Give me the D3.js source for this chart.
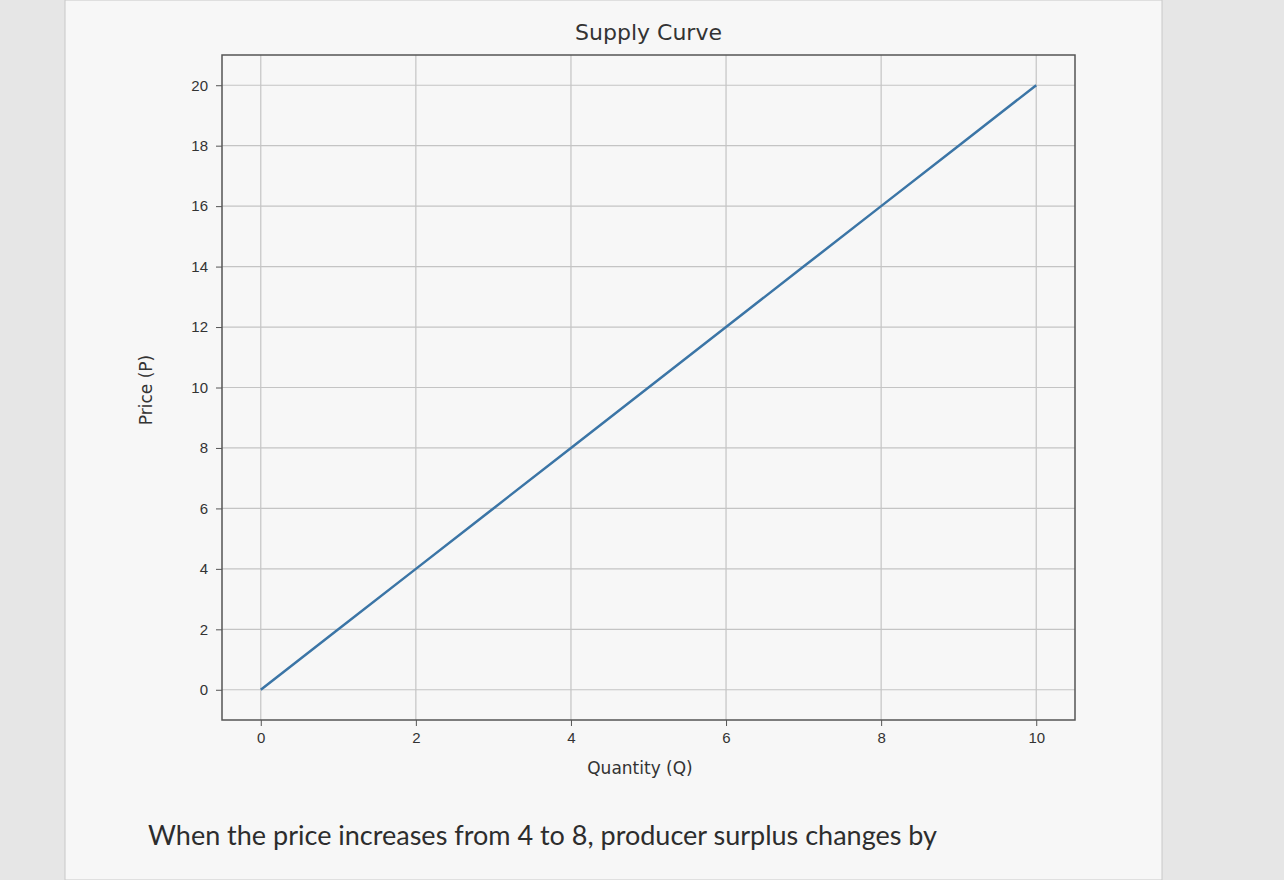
<!DOCTYPE html>
<html><head><meta charset="utf-8">
<script src="https://cdn.jsdelivr.net/npm/d3@7"></script>
<style>body{margin:0;background:#e6e6e6;font-family:"DejaVu Sans",sans-serif}</style>
</head><body>
<svg id="c" width="1284" height="880"></svg>
<script>
const quantity = [0, 1, 2, 3, 4, 5, 6, 7, 8, 9, 10];
const price = [0, 2, 4, 6, 8, 10, 12, 14, 16, 18, 20];
const xTicks = [0, 2, 4, 6, 8, 10];
const yTicks = [0, 2, 4, 6, 8, 10, 12, 14, 16, 18, 20];

const svg = d3.select("#c");
// page card
svg.append("rect").attr("x", 65).attr("y", 0).attr("width", 1097).attr("height", 880).attr("fill", "#f7f7f7").attr("stroke", "#c8c8c8");

const pLeft = 222, pRight = 1075, pTop = 55, pBottom = 720;
const x = d3.scaleLinear().domain([-0.5, 10.5]).range([pLeft, pRight]);
const y = d3.scaleLinear().domain([-1, 21]).range([pBottom, pTop]);

// grid
svg.append("g").selectAll("line").data(xTicks).enter().append("line")
  .attr("x1", d => x(d)).attr("x2", d => x(d)).attr("y1", pTop).attr("y2", pBottom)
  .attr("stroke", "#c4c4c4").attr("stroke-width", 1.2);
svg.append("g").selectAll("line").data(yTicks).enter().append("line")
  .attr("y1", d => y(d)).attr("y2", d => y(d)).attr("x1", pLeft).attr("x2", pRight)
  .attr("stroke", "#c4c4c4").attr("stroke-width", 1.2);

// axes
svg.append("g").attr("transform", "translate(0," + pBottom + ")")
  .call(d3.axisBottom(x).tickValues(xTicks).tickSize(6).tickPadding(6))
  .call(g => g.select(".domain").remove())
  .selectAll("text").style("font-size", "15px").attr("fill", "#333");
svg.append("g").attr("transform", "translate(" + pLeft + ",0)")
  .call(d3.axisLeft(y).tickValues(yTicks).tickSize(6).tickPadding(8))
  .call(g => g.select(".domain").remove())
  .selectAll("text").style("font-size", "15px").attr("fill", "#333");
svg.selectAll(".tick line").attr("stroke", "#555");

// frame
svg.append("rect").attr("x", pLeft).attr("y", pTop).attr("width", pRight - pLeft).attr("height", pBottom - pTop)
  .attr("fill", "none").attr("stroke", "#555").attr("stroke-width", 1.5);

// supply line
const pts = quantity.map((q, i) => [q, price[i]]);
svg.append("path").datum(pts)
  .attr("d", d3.line().x(d => x(d[0])).y(d => y(d[1])))
  .attr("fill", "none").attr("stroke", "#3b75a6").attr("stroke-width", 2.5);

// labels
svg.append("text").attr("x", (pLeft + pRight) / 2).attr("y", 40).attr("text-anchor", "middle")
  .style("font-size", "22px").attr("fill", "#333").text("Supply Curve");
svg.append("text").attr("x", 640).attr("y", 774).attr("text-anchor", "middle")
  .style("font-size", "17px").attr("fill", "#333").text("Quantity (Q)");
svg.append("text").attr("transform", "translate(152,390) rotate(-90)").attr("text-anchor", "middle")
  .style("font-size", "17px").attr("fill", "#333").text("Price (P)");
svg.append("text").attr("x", 148).attr("y", 845)
  .style("font-size", "27px").attr("fill", "#2d2d2d").style("font-family", "Lato, sans-serif")
  .text("When the price increases from 4 to 8, producer surplus changes by");
</script>
</body></html>
